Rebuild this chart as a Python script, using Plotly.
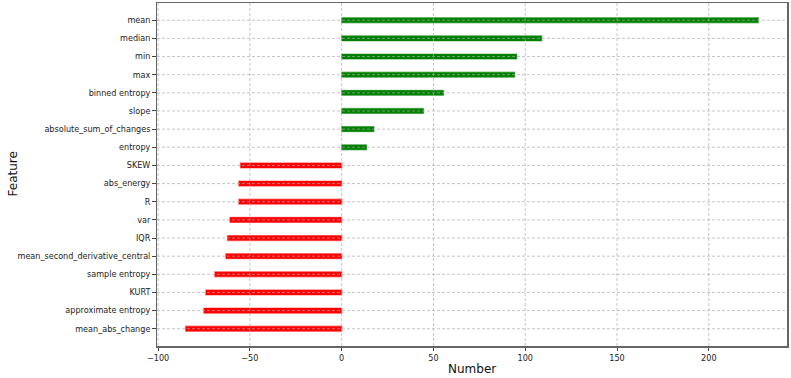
import plotly.graph_objects as go

features = ["mean", "median", "min", "max", "binned entropy", "slope",
            "absolute_sum_of_changes", "entropy", "SKEW", "abs_energy", "R",
            "var", "IQR", "mean_second_derivative_central", "sample entropy",
            "KURT", "approximate entropy", "mean_abs_change"]
values = [227, 109, 95.4, 94.3, 55.5, 44.6, 17.6, 13.6, -55.1, -56.0, -56.0,
          -60.9, -62.2, -63.1, -69.1, -74.0, -75.1, -85.0]
x_ticks = [-100, -50, 0, 50, 100, 150, 200]
x_ticktext = ["\u2212100", "\u221250", "0", "50", "100", "150", "200"]

fill = ["#008000" if v >= 0 else "#ff0000" for v in values]
edge = ["rgba(0,128,0,0.45)" if v >= 0 else "rgba(255,0,0,0.45)" for v in values]

fig = go.Figure()
fig.add_trace(go.Bar(
    x=values, y=features, orientation="h", width=0.28,
    marker=dict(color=fill, line=dict(color=edge, width=1.2)),
    showlegend=False, hoverinfo="skip",
))

grid = dict(type="line", layer="above",
            line=dict(color="rgba(170,170,170,0.85)", width=0.8, dash="3px,2px"))
shapes = []
for t in x_ticks:
    shapes.append(dict(grid, xref="x", yref="paper", x0=t, x1=t, y0=0, y1=1))
for i, _ in enumerate(features):
    shapes.append(dict(grid, xref="paper", yref="y", x0=0, x1=1, y0=i, y1=i))

font = "DejaVu Sans, sans-serif"
title_font = dict(size=12, family=font, color="#111")
fig.update_layout(
    width=791, height=378,
    margin=dict(l=157, r=4, t=3, b=32, autoexpand=False),
    paper_bgcolor="white", plot_bgcolor="white",
    font=dict(family=font, size=8.1, color="#222"),
    shapes=shapes,
    bargap=0,
    hovermode=False,
    xaxis=dict(
        range=[-100.6, 242.6], tickvals=x_ticks, ticktext=x_ticktext,
        automargin=False,
        showgrid=False, zeroline=False,
        showline=True, linecolor="#666", linewidth=1.5, mirror=True,
        ticks="outside", ticklen=3.5, tickcolor="#444",
    ),
    yaxis=dict(
        type="category", categoryorder="array", categoryarray=features,
        range=[len(features) - 1 + 0.95, -0.95],
        automargin=False,
        showgrid=False, zeroline=False,
        showline=True, linecolor="#666", linewidth=1.5, mirror=True,
        ticks="outside", ticklen=3.5, tickcolor="#444",
    ),
    annotations=[
        dict(text="Number", xref="paper", yref="paper", x=0.5, y=0,
             xanchor="center", yanchor="middle", yshift=-23,
             showarrow=False, font=title_font),
        dict(text="Feature", xref="paper", yref="paper", x=0, y=0.5,
             xanchor="center", yanchor="middle", xshift=-145, textangle=-90,
             showarrow=False, font=title_font),
    ],
)

fig.write_html(
    "out.html",
    config={"displayModeBar": False, "staticPlot": True},
    post_script="document.body.style.margin='0';document.body.style.overflow='hidden';",
)
